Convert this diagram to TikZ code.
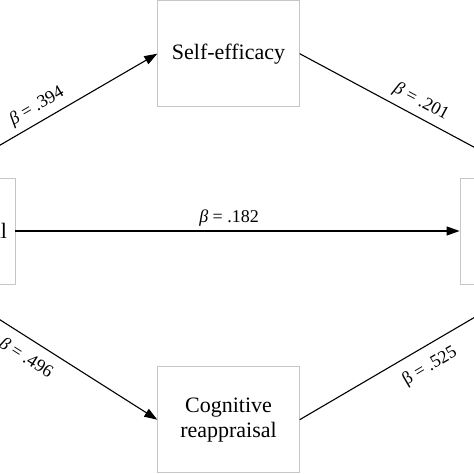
\documentclass[tikz,border=0pt]{standalone}
\usepackage{fontspec}
\setmainfont{Liberation Serif}
\usetikzlibrary{arrows.meta,positioning}

\begin{document}
\begin{tikzpicture}[x=1pt,y=1pt,
		box/.style={draw=gray!45,line width=0.8pt,minimum width=141.6pt,minimum height=106pt,inner sep=0pt,align=center,font=\fontsize{22}{25}\selectfont},
		path/.style={black,line width=1.1pt},
		arr/.style={path,-{Triangle[length=13pt,width=9pt]}},
		lbl/.style={sloped,inner sep=1pt,font=\fontsize{18}{20}\selectfont}]
			\useasboundingbox (0,0) rectangle (474,474);
			\node[box,text width=125.6pt,align=right] (pred) at (-55.8,243) {al};
			\node[box] (outc) at (530.8,243) {};
			\node[box] (eff) at (228.5,420.3) {Self-efficacy};
			\node[box] (reap) at (228.5,54.3) {Cognitive\\reappraisal};
			\draw[arr] (pred.north) -- node[lbl,pos=.47,above=5pt] {\textit{β} = .394} (eff.west);
			\draw[arr] (eff.east) -- node[lbl,pos=.495,above=5pt] {\textit{β} = .201} (outc.north);
			\draw[arr] (pred.east) -- node[lbl,pos=.481,above=3pt] {\textit{β} = .182} (outc.west);
			\draw[arr] (pred.south) -- node[lbl,pos=.43,below=9pt] {\textit{β} = .496} (reap.west);
			\draw[arr] (reap.east) -- node[lbl,pos=.52,below=10pt] {β = .525} (outc.south);
		\end{tikzpicture}
\end{document}
